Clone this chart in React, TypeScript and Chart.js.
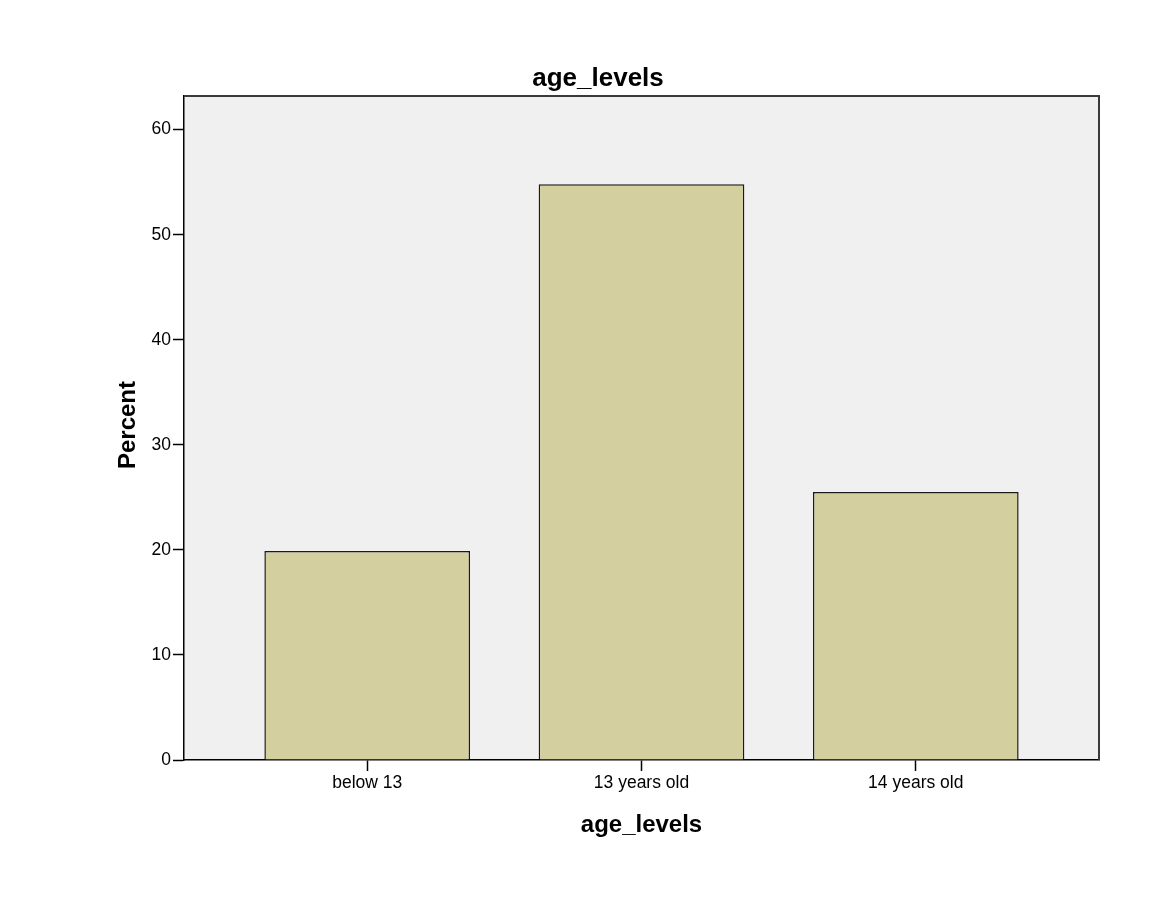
import React, { useEffect, useRef } from "react";
import { Chart, registerables } from "chart.js";

Chart.register(...registerables);

const categories = ["below 13", "13 years old", "14 years old"];
const percentValues = [19.9, 54.8, 25.5];
const yTickValues = [0, 10, 20, 30, 40, 50, 60];
const chartTitle = "age_levels";
const xAxisTitle = "age_levels";
const yAxisTitle = "Percent";

const FONT = "Arial, 'Liberation Sans', sans-serif";

const decorPlugin = {
  id: "decor",
  beforeDraw(chart: any) {
    const { ctx, chartArea } = chart;
    ctx.save();
    ctx.fillStyle = "#f0f0f0";
    ctx.fillRect(chartArea.left, chartArea.top, chartArea.right - chartArea.left, chartArea.bottom - chartArea.top);
    ctx.restore();
  },
  afterDraw(chart: any) {
    const { ctx, chartArea } = chart;
    ctx.save();
    ctx.strokeStyle = "#3a3a3a";
    ctx.lineWidth = 2;
    ctx.beginPath();
    ctx.moveTo(chartArea.left, chartArea.top);
    ctx.lineTo(chartArea.right, chartArea.top);
    ctx.lineTo(chartArea.right, chartArea.bottom);
    ctx.stroke();

    ctx.fillStyle = "#000";
    ctx.textAlign = "center";
    ctx.textBaseline = "alphabetic";
    ctx.font = `bold 26px ${FONT}`;
    ctx.fillText(chartTitle, 598, 86);

    ctx.font = `bold 24px ${FONT}`;
    ctx.fillText(xAxisTitle, (chartArea.left + chartArea.right) / 2, 832);

    ctx.translate(135, 425);
    ctx.rotate(-Math.PI / 2);
    ctx.fillText(yAxisTitle, 0, 0);
    ctx.restore();
  },
};

export default function App() {
  const ref = useRef<HTMLCanvasElement | null>(null);

  useEffect(() => {
    document.body.style.margin = "0";
    const canvas = ref.current;
    if (!canvas) return;
    const chart = new Chart(canvas, {
      type: "bar",
      data: {
        datasets: [
          {
            data: percentValues.map((v, i) => ({ x: i, y: v })),
            backgroundColor: "#d3cf9f",
            borderColor: "#1a1a1a",
            borderWidth: 1.5,
            barPercentage: 0.75,
            categoryPercentage: 1,
          },
        ],
      },
      options: {
        responsive: false,
        animation: false,
        layout: { padding: { left: 0, right: 71, top: 96, bottom: 0 } },
        plugins: {
          legend: { display: false },
          tooltip: { enabled: false },
          title: { display: false },
        },
        scales: {
          x: {
            type: "linear",
            min: -0.668,
            max: categories.length - 1 + 0.668,
            offset: false,
            grid: {
              offset: false,
              drawOnChartArea: false,
              drawTicks: true,
              tickLength: 11,
              tickColor: "#000",
              tickWidth: 1.5,
            },
            border: { display: true, color: "#000", width: 1.5 },
            afterBuildTicks(scale: any) {
              scale.ticks = categories.map((_, i) => ({ value: i }));
            },
            ticks: {
              color: "#000",
              font: { family: FONT, size: 17.5 },
              padding: 2,
              maxRotation: 0,
              autoSkip: false,
              callback: (value: any) => categories[Math.round(Number(value))] ?? "",
            },
            afterFit(scale: any) {
              scale.height = 142;
            },
          },
          y: {
            min: 0,
            max: 63.2,
            grid: {
              drawOnChartArea: false,
              drawTicks: true,
              tickLength: 11,
              tickColor: "#000",
              tickWidth: 1.5,
            },
            border: { display: true, color: "#000", width: 1.5 },
            afterBuildTicks(scale: any) {
              scale.ticks = yTickValues.map((v) => ({ value: v }));
            },
            ticks: {
              color: "#000",
              font: { family: FONT, size: 17.5 },
              padding: 2,
            },
            afterFit(scale: any) {
              scale.width = 184;
            },
          },
        },
      },
      plugins: [decorPlugin],
    });
    return () => chart.destroy();
  }, []);

  return (
    <div>
      <canvas ref={ref} width={1170} height={902} style={{ display: "block" }} />
    </div>
  );
}
